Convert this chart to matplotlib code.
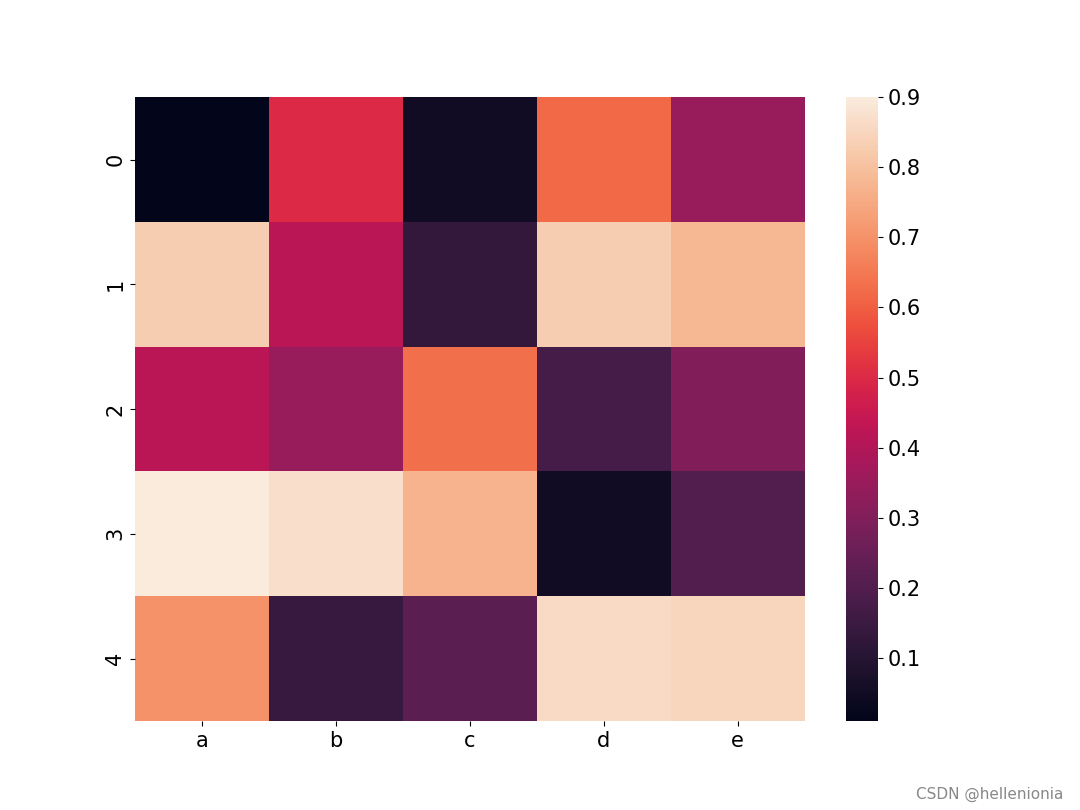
import matplotlib
matplotlib.use('Agg')
import matplotlib.pyplot as plt
import seaborn as sns
import pandas as pd

columns = ['a', 'b', 'c', 'd', 'e']
row0 = [0.01, 0.50, 0.05, 0.62, 0.35]
row1 = [0.83, 0.42, 0.13, 0.83, 0.78]
row2 = [0.42, 0.35, 0.63, 0.17, 0.30]
row3 = [0.90, 0.87, 0.77, 0.05, 0.20]
row4 = [0.70, 0.14, 0.22, 0.86, 0.85]

df = pd.DataFrame([row0, row1, row2, row3, row4], columns=columns)

fig, ax = plt.subplots(figsize=(10.8, 8.1), dpi=100)
sns.heatmap(df, ax=ax)
ax.tick_params(labelsize=15)
cbar = ax.collections[0].colorbar
cbar.ax.tick_params(labelsize=15)
fig.text(0.985, 0.01, 'CSDN @hellenionia', ha='right', va='bottom', fontsize=11, color='#888888')
fig.savefig('out.png')
